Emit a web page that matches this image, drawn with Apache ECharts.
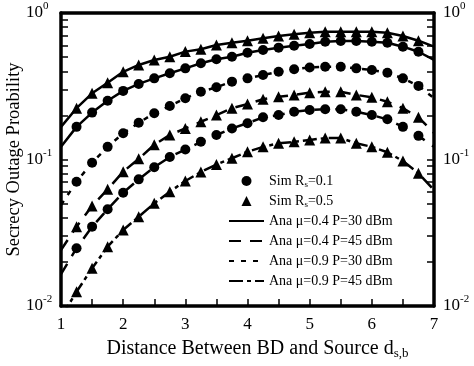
<!DOCTYPE html>
<html><head><meta charset="utf-8">
<script src="https://cdn.jsdelivr.net/npm/echarts@6/dist/echarts.min.js"></script>
<style>html,body{margin:0;padding:0;background:#fff}#c{width:474px;height:366px}</style>
</head><body><div id="c"></div>
<script>
// Distance between BD and source (x values)
const distance = [1,1.25,1.5,1.75,2,2.25,2.5,2.75,3,3.25,3.5,3.75,4,4.25,4.5,4.75,5,5.25,5.5,5.75,6,6.25,6.5,6.75,7];
// Curves (Rs=0.5 -> triangles, Rs=0.1 -> circles)
const triMu04P30 = [0.167,0.224,0.283,0.334,0.397,0.442,0.478,0.503,0.545,0.565,0.605,0.627,0.647,0.672,0.697,0.716,0.734,0.745,0.745,0.745,0.745,0.734,0.697,0.647,0.589];
const cirMu04P30 = [0.122,0.167,0.209,0.252,0.294,0.328,0.358,0.388,0.419,0.454,0.483,0.503,0.536,0.559,0.580,0.598,0.614,0.637,0.644,0.644,0.637,0.627,0.589,0.544,0.478];
const cirMu09P30 = [0.0489,0.0705,0.0951,0.122,0.151,0.178,0.207,0.232,0.262,0.290,0.311,0.340,0.358,0.377,0.397,0.413,0.425,0.430,0.430,0.419,0.408,0.391,0.358,0.318,0.262];
const triMu04P45 = [0.0241,0.0348,0.0482,0.0626,0.0826,0.101,0.126,0.147,0.163,0.181,0.201,0.224,0.239,0.258,0.268,0.276,0.286,0.290,0.290,0.276,0.266,0.248,0.224,0.194,0.152];
const cirMu04P45 = [0.0165,0.0248,0.0348,0.0457,0.0593,0.0732,0.0885,0.104,0.117,0.132,0.147,0.163,0.177,0.194,0.201,0.212,0.218,0.220,0.220,0.212,0.201,0.188,0.167,0.145,0.122];
const triMu09P45 = [0.0084,0.0125,0.0181,0.0254,0.0330,0.0407,0.0502,0.0603,0.0713,0.0822,0.0924,0.102,0.113,0.122,0.129,0.132,0.136,0.140,0.140,0.129,0.122,0.112,0.0977,0.0805,0.0619];
// Axis tick values
const xTickLabels = [1,2,3,4,5,6,7];
const yTickValues = [0.01,0.02,0.03,0.04,0.05,0.06,0.07,0.08,0.09,0.1,0.2,0.3,0.4,0.5,0.6,0.7,0.8,0.9,1];

const FONT = '"Liberation Serif","Times New Roman",serif';
const simCircle = 'Sim Rs=0.1';
const simTri = 'Sim Rs=0.5';
const ana1 = 'Ana μ=0.4 P=30 dBm';
const ana2 = 'Ana μ=0.4 P=45 dBm';
const ana3 = 'Ana μ=0.9 P=30 dBm';
const ana4 = 'Ana μ=0.9 P=45 dBm';

function pts(ys){ return distance.map((x,i)=>[x, ys[i]]); }
// simulation markers are drawn at the interior points only
function simPts(ys){ return distance.map((x,i)=>[x, ys[i]]).filter(p => p[0] > 1 && p[0] < 7); }
function lineSeries(name, ys, lineStyle){
  return {type:'line', name, data: pts(ys), symbol:'none', clip:true, smooth:false,
    itemStyle:{opacity:0},
    lineStyle: Object.assign({color:'#000', width:2.5}, lineStyle), z:3, animation:false};
}
function simSeries(name, ys, symbol, size){
  return {type:'scatter', name, data: simPts(ys), symbol, symbolSize:size, clip:true,
    itemStyle:{color:'#000', opacity:1}, z:4, animation:false};
}

const yLabelRich = {
  b:{fontFamily:FONT, fontSize:17, lineHeight:24, color:'#000'},
  e:{fontFamily:FONT, fontSize:11, lineHeight:12, verticalAlign:'top', color:'#000'}
};
function yFmt(v){ const e = Math.round(Math.log10(v)); return '{b|10}{e|' + (e<0?'-':'') + Math.abs(e) + '}'; }

function yAxis(pos){
  return {type:'log', logBase:10, min:0.01, max:1, position:pos, z:6,
    axisLine:{show:true, lineStyle:{color:'#000', width:3.5}},
    axisTick:{show:false},
    axisLabel:{show:true, margin: pos==='left' ? 35 : 9, align:'left', formatter:yFmt, rich:yLabelRich},
    splitLine:{show:false},
    name: pos==='left' ? 'Secrecy Outage Proability' : '',
    nameLocation:'middle', nameGap:37, nameMoveOverlap:false,
    nameTextStyle:{fontFamily:FONT, fontSize:18.5, color:'#000'}
  };
}
// decade/minor tick marks of the log axis, placed on a companion axis spanning the same decades
function yTickAxis(pos){
  return {type:'value', min:-2, max:0, position:pos, z:6,
    axisLine:{show:false},
    axisTick:{show:true, inside:true, length:7, lineStyle:{color:'#000', width:1.5},
      customValues: yTickValues.map(v => Math.log10(v))},
    axisLabel:{show:false}, splitLine:{show:false}
  };
}

const option = {
  animation:false,
  backgroundColor:'#fff',
  color:['#000'],
  grid:{left:61, right:40, top:13, bottom:60, containLabel:false, outerBoundsMode:'none'},
  xAxis:[{
    type:'value', min:1, max:7, interval:0.5, position:'bottom', z:6,
    axisLine:{show:true, onZero:false, lineStyle:{color:'#000', width:3.5}},
    axisTick:{show:true, inside:true, length:7, lineStyle:{color:'#000', width:1.5}},
    axisLabel:{margin:10, fontFamily:FONT, fontSize:17, color:'#000',
      formatter: v => xTickLabels.indexOf(v) >= 0 ? String(v) : ''},
    splitLine:{show:false},
    name:'Distance Between BD and Source d{s|s,b}', nameLocation:'middle', nameGap:32,
    nameTextStyle:{fontFamily:FONT, fontSize:20, lineHeight:22, color:'#000', padding:[0,0,0,20],
      rich:{s:{fontFamily:FONT, fontSize:13, lineHeight:12, verticalAlign:'bottom', color:'#000'}}}
  },{
    type:'value', min:1, max:7, position:'top', z:6,
    axisLine:{show:true, onZero:false, lineStyle:{color:'#000', width:3.5}},
    axisTick:{show:false}, axisLabel:{show:false}, splitLine:{show:false}
  }],
  yAxis:[yAxis('left'), yAxis('right'), yTickAxis('left'), yTickAxis('right')],
  legend:{
    orient:'vertical', left:223, top:168, itemWidth:35, itemHeight:10, itemGap:4,
    data:[
      {name:simCircle, icon:'circle'},
      {name:simTri, icon:'path://M0,-1L1,1L-1,1Z'},
      {name:ana1, itemStyle:{opacity:0}},
      {name:ana2, itemStyle:{opacity:0}},
      {name:ana3, itemStyle:{opacity:0}},
      {name:ana4, itemStyle:{opacity:0}}
    ],
    textStyle:{fontFamily:FONT, fontSize:14, lineHeight:16, color:'#000',
      rich:{s:{fontFamily:FONT, fontSize:9, lineHeight:9, verticalAlign:'bottom', color:'#000'}}},
    formatter: name => name.replace('Rs', 'R{s|s}'),
    selectedMode:false
  },
  series:[
    lineSeries(ana1, triMu04P30, {type:'solid'}),
    lineSeries(ana1, cirMu04P30, {type:'solid'}),
    lineSeries(ana2, triMu04P45, {type:[12,9]}),
    lineSeries(ana2, cirMu04P45, {type:[12,9]}),
    lineSeries(ana3, cirMu09P30, {type:[5,7]}),
    lineSeries(ana4, triMu09P45, {type:[14,4,4,4]}),
    simSeries(simCircle, cirMu04P30, 'circle', 10),
    simSeries(simCircle, cirMu09P30, 'circle', 10),
    simSeries(simCircle, cirMu04P45, 'circle', 10),
    simSeries(simTri, triMu04P30, 'triangle', 11),
    simSeries(simTri, triMu04P45, 'triangle', 11),
    simSeries(simTri, triMu09P45, 'triangle', 11)
  ]
};
const chart = echarts.init(document.getElementById('c'), null, {renderer:'canvas'});
chart.setOption(option);
</script></body></html>
